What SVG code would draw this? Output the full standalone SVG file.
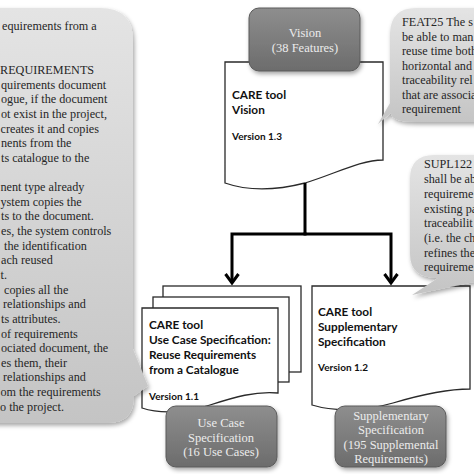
<svg xmlns="http://www.w3.org/2000/svg" width="474" height="474" viewBox="0 0 474 474">
<defs>
<linearGradient id="gLight" x1="0" y1="0" x2="0" y2="1">
<stop offset="0" stop-color="#e4e4e4"/><stop offset="1" stop-color="#c4c4c4"/>
</linearGradient>
<linearGradient id="gDark" x1="0" y1="0" x2="0" y2="1">
<stop offset="0" stop-color="#8e8e8e"/><stop offset="1" stop-color="#6c6c6c"/>
</linearGradient>
<filter id="sh" x="-20%" y="-20%" width="140%" height="140%">
<feDropShadow dx="1.5" dy="2.5" stdDeviation="2" flood-color="#000" flood-opacity="0.35"/>
</filter>
<marker id="arr" markerUnits="userSpaceOnUse" markerWidth="20" markerHeight="20" refX="0" refY="0" viewBox="-12 -10 16 20" orient="auto">
<path d="M-9,-6.5 L0,0 L-9,6.5" fill="none" stroke="#000" stroke-width="3"/>
</marker>
<style>
.callout{fill:url(#gLight);filter:url(#sh)}
.ct{font-family:"Liberation Serif","Times New Roman",serif;font-size:12.2px;fill:#262626}
.doc{fill:#fff;stroke:#2a2a2a;stroke-width:1.3}
.dt{font-family:Lato,"Liberation Sans",sans-serif;font-weight:bold;font-size:11.8px;fill:#111}
.dv{font-family:Lato,"Liberation Sans",sans-serif;font-weight:bold;font-size:10px;fill:#111}
.gbox{fill:url(#gDark);stroke:#5a5a5a;stroke-width:1;filter:url(#sh)}
.gt{font-family:"Liberation Serif","Times New Roman",serif;font-size:12.5px;fill:#ececec;text-anchor:middle}
.con{fill:none;stroke:#000;stroke-width:3;stroke-linejoin:miter}
</style>
</defs>

<g id="doc-vision">
<path class="doc" d="M225,62 H383 V160 C360,160 335,174 305,183 C270,192 245,190 225,183 Z"/>
<text class="dt" x="232" y="99">CARE tool</text>
<text class="dt" x="232" y="113.5">Vision</text>
<text class="dv" x="232" y="140">Version 1.3</text>
</g>

<g id="doc-usecase">
<rect class="doc" x="163" y="286" width="138" height="86"/>
<rect class="doc" x="153" y="297" width="136" height="85"/>
<path class="doc" d="M142,308 H278 V393 C255,391 235,397 210,405 C185,413 160,414 142,408 Z"/>
<text class="dt" x="149" y="328.5">CARE tool</text>
<text class="dt" x="149" y="343.5">Use Case Specification:</text>
<text class="dt" x="149" y="358.5">Reuse Requirements</text>
<text class="dt" x="149" y="373.5">from a Catalogue</text>
<text class="dv" x="149" y="400">Version 1.1</text>
</g>

<g id="doc-supplementary">
<path class="doc" d="M312,286 H470 V389 C445,389 420,395 393,403 C365,411 335,412 312,405 Z"/>
<text class="dt" x="318" y="315.5">CARE tool</text>
<text class="dt" x="318" y="330.5">Supplementary</text>
<text class="dt" x="318" y="345.5">Specification</text>
<text class="dv" x="318" y="371">Version 1.2</text>
</g>

<g id="connectors">
<path class="con" d="M305,183 V234"/>
<path class="con" d="M306.5,234 H232 V283" marker-end="url(#arr)"/>
<path class="con" d="M303.5,234 H391 V283" marker-end="url(#arr)"/>
</g>

<g id="callout-left">
<path class="callout" d="M-20,8 H100 Q133,8 133,41 V349 L148,386 L134,396 V398 Q133,423 108,423 H-20 Z"/>
<text class="ct" x="2" y="30">equirements from a</text>
<text class="ct" x="0" y="74">REQUIREMENTS</text>
<text class="ct" x="1" y="88.5">quirements document</text>
<text class="ct" x="1" y="103">ogue, if the document</text>
<text class="ct" x="1" y="118">ot exist in the project,</text>
<text class="ct" x="0.5" y="132.5">creates it and copies</text>
<text class="ct" x="1" y="147">nents from the</text>
<text class="ct" x="1" y="162">ts catalogue to the</text>
<text class="ct" x="0.5" y="191">nent type already</text>
<text class="ct" x="0.5" y="205.5">ystem copies the</text>
<text class="ct" x="1" y="220">ts to the document.</text>
<text class="ct" x="1" y="235">es, the system controls</text>
<text class="ct" x="4" y="249.5">the identification</text>
<text class="ct" x="1" y="264">ach reused</text>
<text class="ct" x="0.5" y="279">t.</text>
<text class="ct" x="4" y="293.5">copies all the</text>
<text class="ct" x="3" y="308">relationships and</text>
<text class="ct" x="1" y="323">ts attributes.</text>
<text class="ct" x="1" y="337.5">of requirements</text>
<text class="ct" x="1" y="352">ociated document, the</text>
<text class="ct" x="1" y="366.5">es them, their</text>
<text class="ct" x="3" y="381">relationships and</text>
<text class="ct" x="0.5" y="396">om the requirements</text>
<text class="ct" x="0" y="410.5">o the project.</text>
</g>

<g id="callout-feat25">
<path class="callout" d="M416,8 H490 V122 H416 Q391,122 391,113 L378,124 L390,103 V33 Q391,8 416,8 Z"/>
<text class="ct" x="402" y="26">FEAT25 The s</text>
<text class="ct" x="402" y="40.5">be able to man</text>
<text class="ct" x="402" y="55">reuse time both</text>
<text class="ct" x="402" y="69.5">horizontal and</text>
<text class="ct" x="402" y="84">traceability rel</text>
<text class="ct" x="402" y="98.5">that are associa</text>
<text class="ct" x="402" y="113">requirement</text>
</g>

<g id="callout-supl122">
<path class="callout" d="M434,155 H490 V282 L474,282 L412,295 L438,278 Q410,278 410,254 V179 Q410,155 434,155 Z"/>
<text class="ct" x="424" y="168">SUPL122</text>
<text class="ct" x="424" y="183">shall be ab</text>
<text class="ct" x="424" y="197.5">requireme</text>
<text class="ct" x="424" y="212.5">existing pa</text>
<text class="ct" x="424" y="227">traceabilit</text>
<text class="ct" x="424" y="242">(i.e. the ch</text>
<text class="ct" x="424" y="256.5">refines the</text>
<text class="ct" x="424" y="271">requireme</text>
</g>

<g id="box-vision">
<rect class="gbox" x="249" y="8" width="111" height="63" rx="10"/>
<text class="gt" x="305" y="37">Vision</text>
<text class="gt" x="305" y="52">(38 Features)</text>
</g>

<g id="box-usecase">
<rect class="gbox" x="166" y="406" width="111" height="61" rx="10"/>
<text class="gt" x="221" y="427">Use Case</text>
<text class="gt" x="221" y="441.5">Specification</text>
<text class="gt" x="221" y="456">(16 Use Cases)</text>
</g>

<g id="box-supplementary">
<rect class="gbox" x="335" y="406" width="111" height="61" rx="10"/>
<text class="gt" x="391" y="420">Supplementary</text>
<text class="gt" x="391" y="434">Specification</text>
<text class="gt" x="391" y="448.5">(195 Supplemental</text>
<text class="gt" x="391" y="463">Requirements)</text>
</g>
</svg>
